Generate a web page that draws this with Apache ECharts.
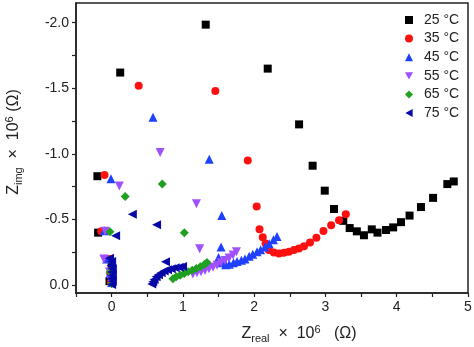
<!DOCTYPE html>
<html>
<head>
<meta charset="utf-8">
<script src="https://cdn.jsdelivr.net/npm/echarts@6/dist/echarts.min.js"></script>
<style>html,body{margin:0;padding:0;background:#fff}#c{width:474px;height:347px}</style>
</head>
<body>
<div id="c"></div>
<script>
var seriesNames = ['25 °C', '35 °C', '45 °C', '55 °C', '65 °C', '75 °C'];
var xTickLabels = ['0', '1', '2', '3', '4', '5'];
var yTickValues = [-2.0, -1.5, -1.0, -0.5, 0.0];

var x25 = [-0.03, -0.01, 0.0, -0.19, -0.20, 0.12, 1.32, 2.19, 2.63, 2.82, 2.99, 3.12, 3.25, 3.34, 3.44, 3.54, 3.65, 3.73, 3.85, 3.95, 4.06, 4.18, 4.34, 4.51, 4.71, 4.80];
var y25 = [-0.03, -0.08, -0.15, -0.40, -0.83, -1.62, -1.985, -1.65, -1.225, -0.91, -0.72, -0.58, -0.49, -0.435, -0.41, -0.38, -0.425, -0.40, -0.42, -0.44, -0.48, -0.53, -0.595, -0.665, -0.77, -0.79];

var x35 = [-0.01, -0.02, -0.04, -0.146, -0.10, 0.38, 1.455, 1.91, 2.035, 2.075, 2.12, 2.16, 2.206, 2.276, 2.347, 2.417, 2.487, 2.558, 2.628, 2.699, 2.783, 2.873, 2.972, 3.08, 3.19, 3.286];
var y35 = [-0.02, -0.09, -0.20, -0.41, -0.84, -1.52, -1.48, -0.95, -0.60, -0.425, -0.364, -0.318, -0.267, -0.249, -0.241, -0.246, -0.254, -0.267, -0.279, -0.297, -0.325, -0.361, -0.412, -0.457, -0.495, -0.541];

var x45 = [0.0, -0.02, -0.07, -0.104, -0.01, 0.58, 1.37, 1.545, 1.535, 1.50, 1.55, 1.60, 1.65, 1.71, 1.76, 1.82, 1.87, 1.93, 1.98, 2.04, 2.09, 2.15, 2.21, 2.27, 2.32];
var y45 = [-0.02, -0.09, -0.20, -0.414, -0.81, -1.28, -0.96, -0.53, -0.29, -0.21, -0.17, -0.155, -0.16, -0.17, -0.18, -0.19, -0.20, -0.22, -0.235, -0.255, -0.27, -0.29, -0.315, -0.345, -0.37];

var x55 = [-0.01, -0.03, -0.11, -0.09, 0.108, 0.68, 1.19, 1.235, 1.14, 1.197, 1.254, 1.31, 1.366, 1.423, 1.479, 1.535, 1.592, 1.648, 1.704, 1.751];
var y55 = [-0.03, -0.10, -0.20, -0.41, -0.755, -1.01, -0.62, -0.277, -0.084, -0.094, -0.102, -0.112, -0.125, -0.137, -0.152, -0.17, -0.188, -0.206, -0.229, -0.254];

var x65 = [0.0, -0.02, -0.024, 0.19, 0.71, 1.02, 0.86, 0.906, 0.962, 1.019, 1.075, 1.131, 1.188, 1.244, 1.30, 1.338];
var y65 = [-0.01, -0.10, -0.406, -0.676, -0.77, -0.40, -0.048, -0.064, -0.076, -0.089, -0.102, -0.114, -0.127, -0.14, -0.158, -0.173];

var x75 = [0.0, 0.01, -0.01, 0.01, 0.0, 0.01, -0.01, -0.03, 0.0, 0.056, 0.29, 0.63, 0.756, 0.563, 0.577, 0.596, 0.624, 0.657, 0.695, 0.737, 0.784, 0.836, 0.892, 0.948, 0.995];
var y75 = [-0.005, -0.03, -0.05, -0.075, -0.10, -0.125, -0.15, -0.205, -0.18, -0.376, -0.54, -0.46, -0.178, -0.008, -0.025, -0.043, -0.064, -0.079, -0.094, -0.107, -0.117, -0.125, -0.132, -0.137, -0.142];

function pairs(xs, ys) { return xs.map(function (v, i) { return [v, ys[i]]; }); }

var colors = ['#000000', '#ff1010', '#2040ff', '#a050ff', '#20a020', '#0808a8'];
var symbols = ['rect', 'circle', 'triangle', 'path://M0,0 L10,0 L5,9 Z', 'diamond', 'path://M9,0 L9,10 L0,5 Z'];
var sizes = [8, 8, 9, 9, 9, 9];
var xsAll = [x25, x35, x45, x55, x65, x75];
var ysAll = [y25, y35, y45, y55, y65, y75];

var FONT = 'Liberation Sans, Arial, sans-serif';
var TXT = '#222';
var nameRich = {
  t: { fontSize: 16, lineHeight: 20, fontFamily: FONT, color: TXT },
  sub: { fontSize: 11, lineHeight: 11, verticalAlign: 'bottom', fontFamily: FONT, color: TXT },
  sup: { fontSize: 11, lineHeight: 11, verticalAlign: 'top', fontFamily: FONT, color: TXT }
};

var chart = echarts.init(document.getElementById('c'), null, { renderer: 'canvas' });
chart.setOption({
  animation: false,
  backgroundColor: '#fff',
  grid: { left: 76, right: 6, top: 3, bottom: 54, show: true, borderColor: '#222', borderWidth: 1.5, outerBoundsMode: 'none', containLabel: false },
  legend: {
    orient: 'vertical', left: 400, top: 8,
    itemWidth: 8, itemHeight: 8, itemGap: 4.6,
    textStyle: { fontSize: 14, fontFamily: FONT, color: TXT, lineHeight: 14, padding: [0, 0, 0, 6] },
    data: seriesNames
  },
  xAxis: {
    type: 'value', min: -0.5, max: 5, interval: 0.5,
    splitLine: { show: false },
    axisLine: { onZero: false, lineStyle: { color: '#222', width: 1.5 } },
    axisTick: { length: 4, lineStyle: { color: '#222', width: 1.2 } },
    axisLabel: {
      fontSize: 14, fontFamily: FONT, color: TXT, margin: 7,
      formatter: function (v) { var r = Math.round(v); return Math.abs(v - r) < 1e-6 && r >= 0 ? xTickLabels[r] : ''; }
    },
    name: '{t|Z}{sub|real}{t|  ×  10}{sup|6}{t|   (Ω)}',
    nameLocation: 'middle', nameGap: 31,
    nameTextStyle: { rich: nameRich, padding: [0, 0, 0, 54] }
  },
  yAxis: {
    type: 'value', inverse: true, min: -2.15, max: 0.06,
    splitLine: { show: false },
    axisLine: { onZero: false, lineStyle: { color: '#222', width: 1.5 } },
    axisTick: { length: 4, customValues: [-2, -1.75, -1.5, -1.25, -1, -0.75, -0.5, -0.25, 0], lineStyle: { color: '#222', width: 1.2 } },
    axisLabel: {
      fontSize: 14, fontFamily: FONT, color: TXT, margin: 7,
      customValues: yTickValues,
      formatter: function (v) { return (Math.abs(v) < 1e-9 ? 0 : v).toFixed(1); }
    },
    name: '{t|Z}{sub|img}{t|  ×  10}{sup|6}{t| (Ω)}',
    nameLocation: 'middle', nameGap: 52, nameRotate: 90,
    nameTextStyle: { rich: nameRich, padding: [0, 0, 0, 12] }
  },
  series: seriesNames.map(function (n, i) {
    return {
      name: n, type: 'scatter',
      symbol: symbols[i], symbolSize: sizes[i],
      itemStyle: { color: colors[i], opacity: 1 },
      data: pairs(xsAll[i], ysAll[i])
    };
  })
});
</script>
</body>
</html>
